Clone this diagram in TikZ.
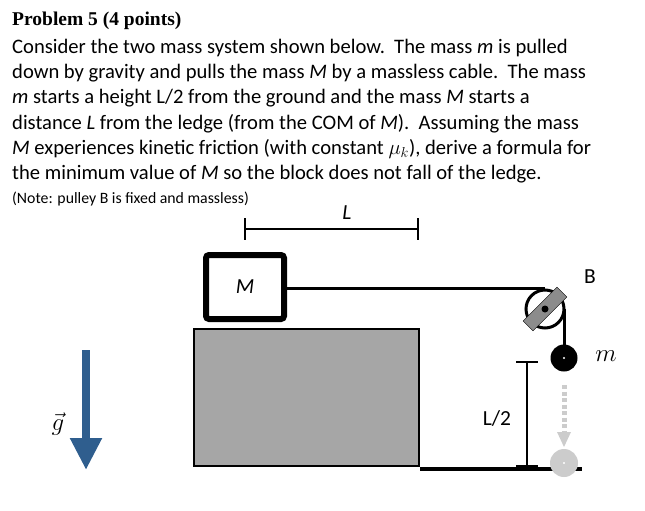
\documentclass[tikz,border=0pt]{standalone}
\usepackage{fontspec}
\setmainfont{Carlito}
\newfontfamily\titlefont{Liberation Serif}
\usetikzlibrary{arrows.meta}
\definecolor{tablegray}{HTML}{A6A6A6}
\definecolor{bracketgray}{HTML}{8C8C8C}
\definecolor{ghost}{HTML}{CCCCCC}
\definecolor{gblue}{HTML}{2F5E8E}
\begin{document}
\begin{tikzpicture}[x=1pt,y=-1pt,
  txt/.style={anchor=west,inner sep=0pt,font=\fontsize{20.6}{22}\selectfont},
  lab/.style={font=\fontsize{21.5}{23}\selectfont},
  dimline/.style={line width=1.5pt}]
\useasboundingbox (0,0) rectangle (645,511);
\node[anchor=west,inner sep=0pt,font=\titlefont\bfseries\fontsize{19.5}{21}\selectfont] (title) at (12,21) {Problem 5 (4 points)};
\node[txt] (l1) at (12,48) {Consider the two mass system shown below.\ \ The mass \textit{m} is pulled};
\node[txt] (l2) at (12,73) {down by gravity and pulls the mass \textit{M} by a massless cable.\ \ The mass};
\node[txt] (l3) at (12,98) {\textit{m} starts a height L/2 from the ground and the mass \textit{M} starts a};
\node[txt] (l4) at (12,124) {distance \textit{L} from the ledge (from the COM of \textit{M}).\ \ Assuming the mass};
\node[txt] (l5) at (12,149) {\textit{M} experiences kinetic friction (with constant $\mu_k$), derive a formula for};
\node[txt] (l6) at (12,174) {the minimum value of \textit{M} so the block does not fall of the ledge.};
\node[anchor=west,inner sep=0pt,font=\fontsize{15.8}{17}\selectfont] (note) at (12,199) {(Note: pulley B is fixed and massless)};
% L dimension
\coordinate (La) at (245,229); \coordinate (Lb) at (418,229);
\draw[dimline] (La) -- (Lb);
\draw[dimline] (245,218) -- (245,240);
\draw[dimline] (418,218) -- (418,240);
\node[lab] (Ltxt) at (347,213) {\itshape L};
% table
\draw[line width=2.5pt,fill=tablegray] (194,329) rectangle (419,466);
\node[draw,line width=6pt,rounded corners=3pt,minimum width=78pt,minimum height=64pt,inner sep=0pt,lab] (M) at (245,287) {\itshape M};
% ground
\coordinate (g1) at (420,469); \coordinate (g2) at (582,469);
\draw[line width=4pt] (g1) -- (g2);
% pulley
\coordinate (P) at (545,309);
\draw[line width=3pt] (M.east |- 0,288) -- (545,288);
\draw[line width=3pt] (P) circle (19);
\draw[line width=3pt] (564,309) -- (564,358);
\draw[fill=bracketgray,rotate around={45:(P)}] (521,302) rectangle (569,316);
\fill (P) circle (3.5);
\node[lab] (B) at (590,277) {B};
% mass m
\node[circle,fill=black,minimum size=27pt,inner sep=0pt] (m) at (564,358) {};
\fill[white] (m.center) circle (1.2);
\node[font=\fontsize{24}{26}\selectfont] (mlab) at (606,356) {$m$};
% ghost
\node[circle,fill=ghost,minimum size=28pt,inner sep=0pt] (mg) at (564,463) {};
\fill[white] (mg.center) circle (1.2);
\draw[ghost,line width=5pt,dash pattern=on 4pt off 2.5pt] (564,385) -- (564,432);
\fill[ghost] (557,432) -- (571,432) -- (564,447) -- cycle;
% L/2
\draw[dimline] (527,362) -- (527,466);
\draw[dimline] (516,362) -- (538,362);
\draw[dimline] (516,466) -- (538,466);
\node[lab] (L2) at (497,418) {L/2};
% gravity
\coordinate (ga) at (86,350); \coordinate (gb) at (86,470);
\draw[gblue,line width=8pt,-{Triangle[length=32pt,width=30pt]}] (ga) -- (gb);
\node[font=\fontsize{24}{26}\selectfont] (glab) at (58,424) {$\vec{g}$};
\end{tikzpicture}
\end{document}
